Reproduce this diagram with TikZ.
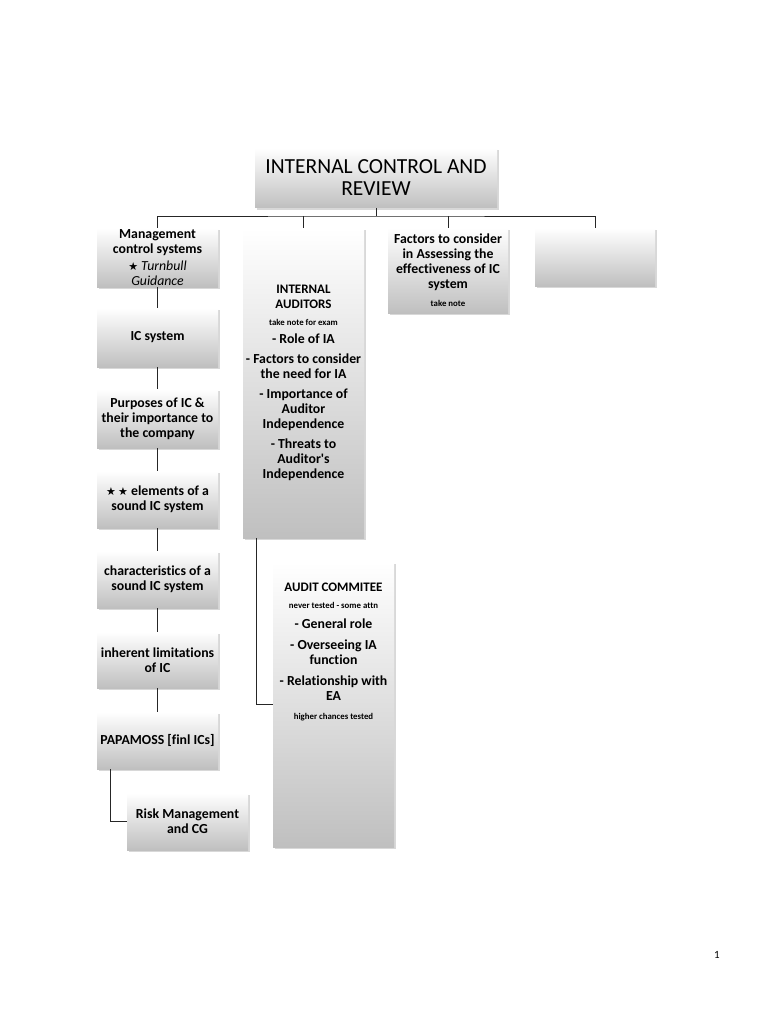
\documentclass[tikz,border=0pt]{standalone}
\usepackage{fontspec}
\setmainfont[Ligatures={NoCommon}]{Carlito}
\newfontfamily\symfont{DejaVu Sans}
\usepackage{tikz}
\usetikzlibrary{positioning, calc, shadows}

\newcommand{\headfont}{\fontsize{21.5}{22}\selectfont}
\newcommand{\boxfont}{\fontsize{13.8}{15}\selectfont\bfseries}
\newcommand{\tinyfont}{\fontsize{8.8}{10}\selectfont\bfseries}
\newcommand{\boxstar}{{\symfont\fontsize{11}{10}\selectfont ★}}

\tikzset{
    notebox/.style={top color=white, bottom color=black!25,
        drop shadow={shadow xshift=1.5pt, shadow yshift=-2pt, opacity=0.3},
        minimum width=121pt, inner sep=1pt, align=center, font=\boxfont},
    notetext/.style={inner sep=0pt, align=center, font=\boxfont},
    link/.style={draw=black!85, line width=0.9pt}
}

\begin{document}
\begin{tikzpicture}[x=1pt, y=-1pt]
        \path[fill=white] (0,0) rectangle (768,1024);

        % top
        \node[notebox, minimum width=242pt, minimum height=60pt, font=\headfont] (title) at (376,178) {INTERNAL CONTROL AND\\REVIEW};
        \coordinate (bus) at (376,216);

        % left column
        \node[notebox, minimum height=59pt] (mcs) at (157.5,257.5) {Management\\control systems\\[2pt]{\mdseries\itshape\boxstar\ Turnbull}\\{\mdseries\itshape Guidance}};
        \node[notebox, minimum height=59pt] (icsys) at (157.5,337.5) {IC system};
        \node[notebox, minimum height=59pt] (purposes) at (157.5,418.5) {Purposes of IC \&\\their importance to\\the company};
        \node[notebox, minimum height=57pt] (elements) at (157.5,499.5) {\boxstar\,\boxstar\ elements of a\\sound IC system};
        \node[notebox, minimum height=57pt] (charact) at (157.5,579.5) {characteristics of a\\sound IC system};
        \node[notebox, minimum height=56pt] (limits) at (157.5,660) {inherent limitations\\of IC};
        \node[notebox, minimum height=57pt] (papamoss) at (157.5,740.5) {PAPAMOSS [finl ICs]};
        \node[notebox, minimum height=57pt] (risk) at (187.5,821.5) {Risk Management\\and CG};

        % internal auditors
        \node[notebox, minimum height=310pt] (ia) at (303.5,383) {{\fontsize{13}{15}\selectfont INTERNAL}\\{\fontsize{13}{15}\selectfont AUDITORS}\\[2pt]{\tinyfont take note for exam}\\[3pt]- Role of IA\\[5pt]- Factors to consider\\the need for IA\\[5pt]- Importance of\\Auditor\\Independence\\[5pt]- Threats to\\Auditor\textquotesingle s\\Independence};

        % audit committee
        \node[notebox, minimum height=285pt] (audit) at (333.5,704.5) {};
        \node[notetext, below=21pt of audit.north] (audittext) {{\fontsize{13}{15}\selectfont AUDIT COMMITEE}\\[2pt]{\tinyfont never tested - some attn}\\[5pt]- General role\\[6pt]- Overseeing IA\\function\\[6pt]- Relationship with\\EA\\[4pt]{\tinyfont higher chances tested}};

        % right
        \node[notebox, minimum width=120pt, minimum height=85pt] (factors) at (448,270.5) {Factors to consider\\in Assessing the\\effectiveness of IC\\system\\[3pt]{\tinyfont take note}};
        \node[notebox, minimum width=120pt, minimum height=58pt] (empty) at (595,257) {};

        % connectors
        \draw[link] (title) -- (bus);
        \draw[link] (mcs.north) |- (bus) -| (empty.north);
        \draw[link] (ia.north) -- (ia.north |- bus);
        \draw[link] (factors.north) -- (factors.north |- bus);
        \draw[link] (mcs) -- (icsys);
        \draw[link] (icsys) -- (purposes);
        \draw[link] (purposes) -- (elements);
        \draw[link] (elements) -- (charact);
        \draw[link] (charact) -- (limits);
        \draw[link] (limits) -- (papamoss);
        \draw[link] ([xshift=-47.5pt]papamoss.south) |- (risk.west);
        \draw[link] ([xshift=-47.5pt]ia.south) |- (audit.west);

        \node[font=\fontsize{11}{12}\selectfont] (pagenum) at (717,955) {1};
\end{tikzpicture}
\end{document}
